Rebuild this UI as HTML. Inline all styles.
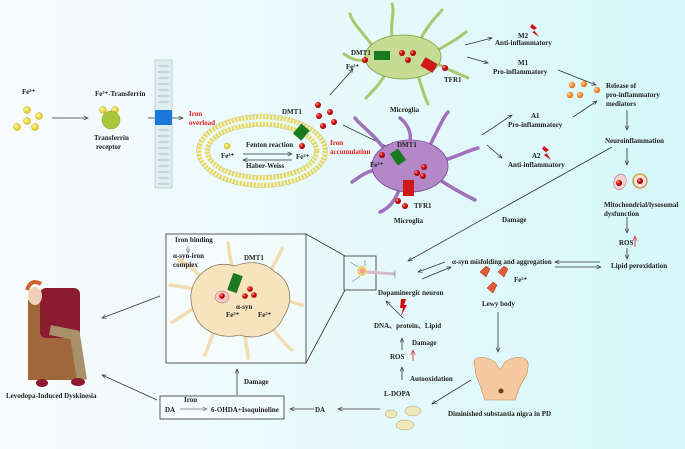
<!DOCTYPE html>
<html><head><meta charset="utf-8"><style>
html,body{margin:0;padding:0}
body{width:685px;height:449px;overflow:hidden}
svg{display:block}
text{font-family:"Liberation Serif",serif;font-weight:bold;font-size:7px;fill:#222}
.r{fill:#e0201a}
</style></head><body>
<svg width="685" height="449" viewBox="0 0 685 449" xmlns="http://www.w3.org/2000/svg">
<defs>
<linearGradient id="bg" x1="0" y1="0" x2="1" y2="0">
<stop offset="0" stop-color="#f8fbfc"/><stop offset="1" stop-color="#d6f7fa"/></linearGradient>
<marker id="a" viewBox="0 0 10 10" refX="9" refY="5" markerWidth="6" markerHeight="6" orient="auto"><path d="M0,1 L9,5 L0,9" fill="none" stroke="#333" stroke-width="1.3"/></marker>
<marker id="ar" viewBox="0 0 10 10" refX="9" refY="5" markerWidth="6" markerHeight="6" orient="auto"><path d="M0,1 L9,5 L0,9" fill="none" stroke="#d33" stroke-width="1.3"/></marker>
<radialGradient id="rd" cx=".35" cy=".35"><stop offset="0" stop-color="#ffb0a8"/><stop offset=".5" stop-color="#e51d1d"/><stop offset="1" stop-color="#a00"/></radialGradient>
<radialGradient id="yd" cx=".35" cy=".35"><stop offset="0" stop-color="#fffbc0"/><stop offset="1" stop-color="#e8cf20"/></radialGradient>
<radialGradient id="od" cx=".35" cy=".35"><stop offset="0" stop-color="#ffd3a0"/><stop offset="1" stop-color="#f07a1a"/></radialGradient>
</defs>
<rect width="685" height="449" fill="url(#bg)"/>
<g stroke="#333" stroke-width="0.8" fill="none">
<line x1="52" y1="118" x2="88" y2="118" marker-end="url(#a)"/>
<line x1="148" y1="118" x2="183" y2="118" marker-end="url(#a)"/>
<line x1="330" y1="95" x2="353" y2="69" marker-end="url(#a)"/>
<line x1="343" y1="125" x2="390" y2="148" marker-end="url(#a)"/>
<line x1="465" y1="45" x2="492" y2="38" marker-end="url(#a)"/>
<line x1="467" y1="57" x2="488" y2="63" marker-end="url(#a)"/>
<line x1="558" y1="70" x2="596" y2="85" marker-end="url(#a)"/>
<line x1="573" y1="117" x2="597" y2="101" marker-end="url(#a)"/>
<line x1="482" y1="135" x2="512" y2="115" marker-end="url(#a)"/>
<line x1="487" y1="145" x2="502" y2="158" marker-end="url(#a)"/>
<line x1="627" y1="110" x2="627" y2="130" marker-end="url(#a)"/>
<line x1="627" y1="148" x2="627" y2="165" marker-end="url(#a)"/>
<line x1="627" y1="217" x2="627" y2="233" marker-end="url(#a)"/>
<line x1="627" y1="248" x2="627" y2="259" marker-end="url(#a)"/>
<line x1="612" y1="147" x2="408" y2="261" marker-end="url(#a)"/>
<line x1="600" y1="262" x2="555" y2="262" marker-end="url(#a)"/>
<line x1="555" y1="267" x2="601" y2="267" marker-end="url(#a)"/>
<line x1="445" y1="262" x2="418" y2="272" marker-end="url(#a)"/>
<line x1="422" y1="279" x2="451" y2="267" marker-end="url(#a)"/>
<line x1="498" y1="312" x2="498" y2="352" marker-end="url(#a)"/>
<line x1="403" y1="318" x2="386" y2="301" marker-end="url(#a)"/>
<line x1="402" y1="350" x2="402" y2="338" marker-end="url(#a)"/>
<line x1="402" y1="380" x2="402" y2="367" marker-end="url(#a)"/>
<line x1="471" y1="380" x2="432" y2="404" marker-end="url(#a)"/>
<line x1="380" y1="409" x2="338" y2="409" marker-end="url(#a)"/>
<line x1="314" y1="409" x2="290" y2="409" marker-end="url(#a)"/>
<line x1="180" y1="409" x2="207" y2="409" marker-end="url(#a)"/>
<line x1="237" y1="395" x2="237" y2="369" marker-end="url(#a)"/>
<line x1="157" y1="400" x2="102" y2="375" marker-end="url(#a)"/>
<line x1="160" y1="296" x2="102" y2="318" marker-end="url(#a)"/>
<line x1="243" y1="154" x2="292" y2="154" marker-end="url(#a)"/>
<line x1="292" y1="160" x2="243" y2="160" marker-end="url(#a)"/>
<line x1="188" y1="246" x2="188" y2="253" marker-end="url(#a)"/>
<line x1="236" y1="314" x2="258" y2="314" marker-end="url(#a)"/>
<line x1="306" y1="234" x2="345" y2="256"/>
<line x1="306" y1="363" x2="345" y2="290"/>
<rect x="160" y="396" width="124" height="23" fill="#fff" fill-opacity=".3"/>
<rect x="166" y="234" width="140" height="129" fill="#fff" fill-opacity=".4"/>
<rect x="344" y="256" width="32" height="34"/>
</g>
<g stroke="#d33" stroke-width="0.9"><line x1="635" y1="247" x2="635" y2="236" marker-end="url(#ar)"/><line x1="413" y1="361" x2="413" y2="350" marker-end="url(#ar)"/></g>
<g fill="url(#yd)" stroke="#b9a000" stroke-width=".4">
<circle cx="27" cy="110" r="3.5"/><circle cx="39" cy="116" r="3.5"/><circle cx="27" cy="121" r="3.5"/><circle cx="17" cy="127" r="3.5"/><circle cx="35" cy="127" r="3.5"/>
<circle cx="103" cy="110" r="3.5"/><circle cx="115" cy="110" r="3.5"/><circle cx="227" cy="146" r="3"/></g>
<circle cx="111" cy="120" r="9" fill="#a8c83a" stroke="#7a9a20" stroke-width=".5"/>
<rect x="155" y="60" width="17" height="128" fill="#dfeef0" stroke="#9ab" stroke-width=".5"/>
<g fill="none" stroke="#6b8fa8" stroke-width=".6"><path d="M158,66h11M158,72h11M158,78h11M158,84h11M158,90h11M158,96h11M158,102h11M158,130h11M158,136h11M158,142h11M158,148h11M158,154h11M158,160h11M158,166h11M158,172h11M158,178h11M158,184h11"/></g>
<rect x="155" y="110" width="17" height="15" fill="#1a78d8"/>
<g fill="none" stroke="#e8d860" stroke-width="4.5" stroke-dasharray="2.3 1.2">
<ellipse cx="262" cy="151" rx="63" ry="34"/><ellipse cx="262" cy="151" rx="55" ry="27"/></g>
<g fill="none" stroke="#b8a000" stroke-width=".3"><ellipse cx="262" cy="151" rx="65.5" ry="36.5"/><ellipse cx="262" cy="151" rx="52.5" ry="24.5"/></g>
<rect x="296" y="126" width="11" height="13" fill="#1a7a20" transform="rotate(40 302 132)"/>
<g fill="none" stroke="#a8c870" stroke-width="3" stroke-linecap="round">
<path d="M372,45 C362,32 352,22 350,14 M392,38 C390,22 395,12 392,4 M420,40 C428,25 435,18 442,10 M438,50 C452,42 460,37 466,32 M440,65 C452,72 460,74 468,78 M418,75 C422,88 424,96 428,104 M385,75 C378,86 372,92 366,98 M368,60 C357,62 350,58 344,54"/></g>
<ellipse cx="403" cy="57" rx="38" ry="22" fill="#c6dc92" stroke="#7b9a3a" stroke-width=".8"/>
<rect x="374" y="51" width="16" height="9" fill="#1a7a20"/>
<rect x="422" y="60" width="14" height="10" fill="#d01818" transform="rotate(30 429 65)"/>
<g fill="none" stroke="#a070b8" stroke-width="3.5" stroke-linecap="round">
<path d="M385,150 C375,135 360,125 355,118 M430,145 C440,125 445,115 448,112 M445,160 C460,155 470,150 478,148 M440,180 C455,190 465,195 475,200 M400,188 C395,200 390,208 380,212 M375,170 C365,172 358,178 352,182 M410,142 C412,130 405,122 400,118"/></g>
<ellipse cx="410" cy="166" rx="38" ry="26" fill="#b488c8" stroke="#7a4a90" stroke-width=".8"/>
<rect x="393" y="150" width="10" height="14" fill="#1a7a20" transform="rotate(-35 398 157)"/>
<rect x="403" y="180" width="11" height="16" fill="#d01818"/>
<g fill="url(#rd)">
<circle cx="318" cy="105" r="3"/><circle cx="330" cy="112" r="3"/><circle cx="319" cy="116" r="3"/><circle cx="323" cy="126" r="3"/><circle cx="334" cy="122" r="3"/><circle cx="302" cy="146" r="3"/>
<circle cx="365" cy="60" r="3"/><circle cx="402" cy="53" r="3"/><circle cx="413" cy="53" r="3"/><circle cx="408" cy="60" r="3"/><circle cx="445" cy="68" r="3"/>
<circle cx="382" cy="155" r="3"/><circle cx="424" cy="167" r="3"/><circle cx="417" cy="173" r="3"/><circle cx="423" cy="176" r="3"/><circle cx="398" cy="201" r="3"/><circle cx="405" cy="206" r="3"/>
<circle cx="250" cy="289" r="2.8"/><circle cx="245" cy="296" r="2.8"/><circle cx="254" cy="295" r="2.8"/></g>
<ellipse cx="620" cy="182" rx="6" ry="8" fill="#f4d0d0" stroke="#a66" stroke-width=".5" transform="rotate(20 620 182)"/>
<circle cx="640" cy="181" r="7" fill="#f8e0e0" stroke="#c9a050" stroke-width="1.5"/>
<circle cx="619" cy="183" r="3" fill="url(#rd)"/><circle cx="640" cy="181" r="3" fill="url(#rd)"/>
<g fill="url(#od)"><circle cx="572" cy="85" r="3.2"/><circle cx="584" cy="84" r="3.2"/><circle cx="570" cy="95" r="3.2"/><circle cx="580" cy="95" r="3.2"/><circle cx="597" cy="90" r="3.2"/></g>
<g fill="#d01010"><path d="M532,24 l5,4 -3,2 5,7 -7,-5 3,-1 -5,-4z"/><path d="M544,146 l5,4 -3,2 5,8 -7,-5 3,-2 -5,-4z"/><path d="M401,299 l5,0 -2,6 3,0 -6,11 2,-8 -3,0z"/></g>
<g fill="none" stroke="#f2dcb0" stroke-width="3.5" stroke-linecap="round">
<path d="M205,282 C195,270 185,262 178,260 M198,305 C188,312 180,318 172,322 M215,330 C210,340 208,348 205,355 M245,335 C246,345 248,352 248,358 M270,325 C278,335 285,345 292,350 M285,300 C292,302 298,304 302,305 M270,272 C275,262 280,255 282,248 M232,266 C230,258 229,250 228,243 M200,290 C190,288 180,286 170,285"/></g>
<path d="M200,275 C210,265 220,262 235,266 C250,260 265,262 275,272 C290,280 295,300 283,318 C275,335 255,340 240,335 C220,340 200,330 195,315 C188,300 190,285 200,275Z" fill="#f7e4bf" stroke="#8a7a60" stroke-width=".8"/>
<rect x="230" y="274" width="10" height="18" fill="#1a7a20" transform="rotate(20 235 283)"/>
<g fill="url(#rd)"><circle cx="250" cy="289" r="2.8"/><circle cx="245" cy="296" r="2.8"/><circle cx="254" cy="295" r="2.8"/></g>
<ellipse cx="222" cy="297" rx="7" ry="6" fill="#f0c8c8" stroke="#a66" stroke-width=".5"/>
<circle cx="222" cy="296" r="2.8" fill="url(#rd)"/>
<circle cx="362" cy="271" r="5" fill="#f3d070"/><circle cx="362" cy="271" r="2.5" fill="#e9a0a0"/>
<path d="M367,272 L395,274" stroke="#d9b8c8" stroke-width="3"/>
<path d="M350,262 l8,5 M352,282 l8,-6 M365,260 l0,6 M395,270 v8" stroke="#555" stroke-width=".5" fill="none"/>
<g fill="#e55a3a" stroke="#8a2a10" stroke-width=".5"><path d="M480,272 l6,-6 4,3 -4,8z"/><path d="M498,272 l6,-6 4,3 -4,8z"/><path d="M487,288 l6,-6 4,3 -4,8z"/></g>
<path d="M475,367 C470,355 485,355 495,362 L500,370 L505,362 C515,355 530,355 528,367 C528,378 520,382 518,392 L515,400 L485,400 L482,392 C480,382 475,378 475,367Z" fill="#f6c9a0" stroke="#c08a5a" stroke-width=".6"/>
<circle cx="501" cy="391" r="2.5" fill="#7a3a1a"/>
<g fill="#f0e8b8" stroke="#a09a70" stroke-width=".5"><ellipse cx="391" cy="414" rx="6" ry="4"/><ellipse cx="413" cy="411" rx="8" ry="5"/><ellipse cx="405" cy="425" rx="9" ry="5"/></g>
<rect x="28" y="300" width="50" height="80" fill="#a0683a"/>
<rect x="40" y="288" width="40" height="50" fill="#8c1a30" rx="6"/>
<ellipse cx="35" cy="296" rx="7" ry="9" fill="#f0d0b8"/><path d="M27,290 q4,-12 14,-6" stroke="#d06030" stroke-width="4" fill="none"/>
<path d="M50,330 L75,335 L82,380" stroke="#a89068" stroke-width="10" fill="none"/>
<ellipse cx="78" cy="382" rx="7" ry="4" fill="#8c1a30"/><ellipse cx="42" cy="383" rx="6" ry="4" fill="#8c1a30"/>
<text x="22" y="94">Fe³⁺</text>
<text x="95" y="96">Fe³⁺-Transferrin</text>
<text x="94" y="140">Transferrin</text><text x="96" y="149">receptor</text>
<text x="189" y="116" class="r">Iron</text><text x="189" y="125" class="r">overload</text>
<text x="282" y="114">DMT1</text>
<text x="246" y="147">Fenton reaction</text>
<text x="221" y="158" font-size="6">Fe³⁺</text><text x="296" y="159" font-size="6">Fe²⁺</text>
<text x="246" y="168">Haber-Weiss</text>
<text x="330" y="145" class="r">Iron</text><text x="330" y="154" class="r">accumulation</text>
<text x="346" y="69" font-size="6">Fe²⁺</text>
<text x="351" y="55">DMT1</text>
<text x="444" y="82">TFR1</text>
<text x="390" y="112">Microglia</text>
<text x="518" y="38">M2</text><text x="495" y="45">Anti-inflammatory</text>
<text x="518" y="65">M1</text><text x="493" y="74">Pro-inflammatory</text>
<text x="606" y="88">Release of</text><text x="606" y="97">pro-inflammatory</text><text x="606" y="106">mediators</text>
<text x="605" y="143">Neuroinflammation</text>
<text x="604" y="207">Mitochondrial/lysosomal</text><text x="604" y="216">dysfunction</text>
<text x="397" y="147">DMT1</text>
<text x="370" y="167" font-size="6">Fe²⁺</text>
<text x="414" y="208">TFR1</text>
<text x="394" y="223">Microglia</text>
<text x="531" y="118">A1</text><text x="508" y="127">Pro-inflammatory</text>
<text x="532" y="158">A2</text><text x="508" y="167">Anti-inflammatory</text>
<text x="502" y="222">Damage</text>
<text x="619" y="245">ROS</text>
<text x="611" y="268">Lipid peroxidation</text>
<text x="452" y="264">α-syn misfolding and aggregation</text>
<text x="514" y="282" font-size="6">Fe²⁺</text>
<text x="482" y="306">Lewy body</text>
<text x="378" y="295">Dopaminergic neuron</text>
<text x="374" y="328">DNA、protein、Lipid</text>
<text x="412" y="345">Damage</text>
<text x="390" y="359">ROS</text>
<text x="410" y="381">Autooxidation</text>
<text x="384" y="396">L-DOPA</text>
<text x="448" y="416">Diminished substantia nigra in PD</text>
<text x="6" y="398">Levodopa-Induced Dyskinesia</text>
<text x="175" y="242">Iron binding</text>
<text x="173" y="258">α-syn-iron</text><text x="173" y="267">complex</text>
<text x="244" y="260">DMT1</text>
<text x="236" y="309">α-syn</text>
<text x="226" y="317" font-size="6">Fe³⁺</text><text x="258" y="317" font-size="6">Fe²⁺</text>
<text x="244" y="384">Damage</text>
<text x="165" y="412">DA</text><text x="184" y="402">Iron</text>
<text x="211" y="412">6-OHDA+Isoquinoline</text>
<text x="315" y="412">DA</text>
</svg>
</body></html>
